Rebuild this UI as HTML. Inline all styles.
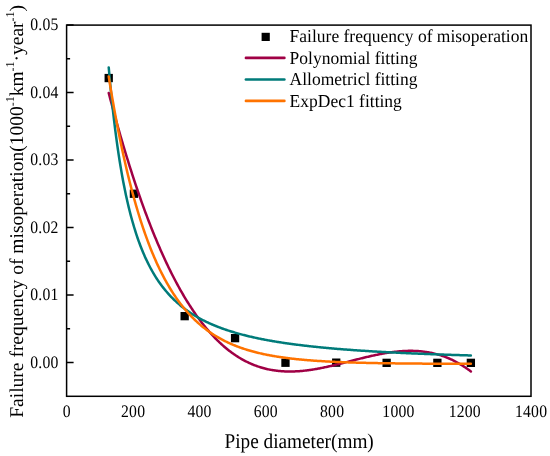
<!DOCTYPE html>
<html><head><meta charset="utf-8"><style>
html,body{margin:0;padding:0;background:#fff;}
svg{display:block;}
text{font-family:'Liberation Serif','Times New Roman',serif;fill:#000;text-rendering:geometricPrecision;}
</style></head><body>
<svg width="550" height="456" viewBox="0 0 550 456">
<rect width="550" height="456" fill="#fff"/>

<rect x="66.6" y="25.1" width="464.40" height="371.20" fill="none" stroke="#000" stroke-width="1.5"/>
<path d="M66.6,362.50h7 M66.6,328.75h3.5 M66.6,295.00h7 M66.6,261.25h3.5 M66.6,227.50h7 M66.6,193.75h3.5 M66.6,160.00h7 M66.6,126.25h3.5 M66.6,92.50h7 M66.6,58.75h3.5 M66.6,25.00h7" stroke="#000" stroke-width="1.5" fill="none"/>
<text transform="translate(58.5,367.90) scale(1,1.12)" font-size="15.7" text-anchor="end" letter-spacing="0.2">0.00</text>
<text transform="translate(58.5,300.40) scale(1,1.12)" font-size="15.7" text-anchor="end" letter-spacing="0.2">0.01</text>
<text transform="translate(58.5,232.90) scale(1,1.12)" font-size="15.7" text-anchor="end" letter-spacing="0.2">0.02</text>
<text transform="translate(58.5,165.40) scale(1,1.12)" font-size="15.7" text-anchor="end" letter-spacing="0.2">0.03</text>
<text transform="translate(58.5,97.90) scale(1,1.12)" font-size="15.7" text-anchor="end" letter-spacing="0.2">0.04</text>
<text transform="translate(58.5,30.40) scale(1,1.12)" font-size="15.7" text-anchor="end" letter-spacing="0.2">0.05</text>
<text transform="translate(66.80,416.9) scale(1,1.12)" font-size="15.7" text-anchor="middle" letter-spacing="0.2">0</text>
<text transform="translate(133.13,416.9) scale(1,1.12)" font-size="15.7" text-anchor="middle" letter-spacing="0.2">200</text>
<text transform="translate(199.46,416.9) scale(1,1.12)" font-size="15.7" text-anchor="middle" letter-spacing="0.2">400</text>
<text transform="translate(265.79,416.9) scale(1,1.12)" font-size="15.7" text-anchor="middle" letter-spacing="0.2">600</text>
<text transform="translate(332.11,416.9) scale(1,1.12)" font-size="15.7" text-anchor="middle" letter-spacing="0.2">800</text>
<text transform="translate(398.44,416.9) scale(1,1.12)" font-size="15.7" text-anchor="middle" letter-spacing="0.2">1000</text>
<text transform="translate(464.77,416.9) scale(1,1.12)" font-size="15.7" text-anchor="middle" letter-spacing="0.2">1200</text>
<text transform="translate(531.10,416.9) scale(1,1.12)" font-size="15.7" text-anchor="middle" letter-spacing="0.2">1400</text>
<rect x="104.57" y="73.90" width="8.3" height="8.3" fill="#000"/>
<rect x="129.77" y="189.60" width="8.3" height="8.3" fill="#000"/>
<rect x="180.51" y="312.00" width="8.3" height="8.3" fill="#000"/>
<rect x="230.92" y="334.00" width="8.3" height="8.3" fill="#000"/>
<rect x="281.33" y="358.60" width="8.3" height="8.3" fill="#000"/>
<rect x="332.08" y="358.50" width="8.3" height="8.3" fill="#000"/>
<rect x="382.49" y="358.70" width="8.3" height="8.3" fill="#000"/>
<rect x="433.23" y="358.70" width="8.3" height="8.3" fill="#000"/>
<rect x="466.72" y="358.70" width="8.3" height="8.3" fill="#000"/>
<path d="M108.72,92.93 L109.63,96.41 L110.53,99.86 L111.44,103.28 L112.35,106.68 L113.26,110.04 L114.16,113.38 L115.07,116.69 L115.98,119.98 L116.89,123.24 L117.80,126.47 L118.70,129.67 L119.61,132.84 L120.52,135.99 L121.43,139.12 L122.33,142.21 L123.24,145.28 L124.15,148.33 L125.06,151.34 L125.96,154.34 L126.87,157.30 L127.78,160.24 L128.69,163.15 L129.59,166.04 L130.50,168.90 L131.41,171.74 L132.32,174.55 L133.23,177.34 L134.13,180.10 L135.04,182.84 L135.95,185.55 L136.86,188.23 L137.76,190.89 L138.67,193.53 L139.58,196.14 L140.49,198.73 L141.39,201.29 L142.30,203.83 L143.21,206.35 L144.12,208.84 L145.02,211.31 L145.93,213.75 L146.84,216.17 L147.75,218.57 L148.66,220.94 L149.56,223.29 L150.47,225.62 L151.38,227.92 L152.29,230.20 L153.19,232.46 L154.10,234.69 L155.01,236.90 L155.92,239.09 L156.82,241.26 L157.73,243.40 L158.64,245.52 L159.55,247.62 L160.45,249.70 L161.36,251.75 L162.27,253.79 L163.18,255.80 L164.09,257.79 L164.99,259.76 L165.90,261.70 L166.81,263.63 L167.72,265.53 L168.62,267.42 L169.53,269.28 L170.44,271.12 L171.35,272.94 L172.25,274.74 L173.16,276.52 L174.07,278.28 L174.98,280.01 L175.89,281.73 L176.79,283.43 L177.70,285.11 L178.61,286.76 L179.52,288.40 L180.42,290.02 L181.33,291.61 L182.24,293.19 L183.15,294.75 L184.05,296.29 L184.96,297.81 L185.87,299.31 L186.78,300.79 L187.68,302.26 L188.59,303.70 L189.50,305.13 L190.41,306.53 L191.32,307.92 L192.22,309.29 L193.13,310.64 L194.04,311.98 L194.95,313.29 L195.85,314.59 L196.76,315.87 L197.67,317.13 L198.58,318.37 L199.48,319.60 L200.39,320.81 L201.30,322.00 L202.21,323.17 L203.11,324.33 L204.02,325.47 L204.93,326.59 L205.84,327.70 L206.75,328.79 L207.65,329.86 L208.56,330.92 L209.47,331.96 L210.38,332.98 L211.28,333.99 L212.19,334.98 L213.10,335.95 L214.01,336.91 L214.91,337.86 L215.82,338.78 L216.73,339.70 L217.64,340.59 L218.54,341.47 L219.45,342.34 L220.36,343.19 L221.27,344.03 L222.18,344.85 L223.08,345.65 L223.99,346.44 L224.90,347.22 L225.81,347.98 L226.71,348.73 L227.62,349.46 L228.53,350.18 L229.44,350.89 L230.34,351.58 L231.25,352.26 L232.16,352.92 L233.07,353.57 L233.97,354.21 L234.88,354.83 L235.79,355.44 L236.70,356.03 L237.61,356.62 L238.51,357.19 L239.42,357.74 L240.33,358.29 L241.24,358.82 L242.14,359.34 L243.05,359.84 L243.96,360.34 L244.87,360.82 L245.77,361.29 L246.68,361.75 L247.59,362.19 L248.50,362.62 L249.41,363.04 L250.31,363.45 L251.22,363.85 L252.13,364.24 L253.04,364.61 L253.94,364.98 L254.85,365.33 L255.76,365.67 L256.67,366.00 L257.57,366.32 L258.48,366.63 L259.39,366.93 L260.30,367.22 L261.20,367.50 L262.11,367.77 L263.02,368.02 L263.93,368.27 L264.84,368.51 L265.74,368.73 L266.65,368.95 L267.56,369.16 L268.47,369.36 L269.37,369.55 L270.28,369.72 L271.19,369.89 L272.10,370.06 L273.00,370.21 L273.91,370.35 L274.82,370.48 L275.73,370.61 L276.63,370.73 L277.54,370.83 L278.45,370.93 L279.36,371.03 L280.27,371.11 L281.17,371.18 L282.08,371.25 L282.99,371.31 L283.90,371.36 L284.80,371.40 L285.71,371.44 L286.62,371.47 L287.53,371.49 L288.43,371.50 L289.34,371.51 L290.25,371.51 L291.16,371.50 L292.06,371.49 L292.97,371.47 L293.88,371.44 L294.79,371.41 L295.70,371.37 L296.60,371.32 L297.51,371.27 L298.42,371.21 L299.33,371.14 L300.23,371.07 L301.14,371.00 L302.05,370.91 L302.96,370.83 L303.86,370.73 L304.77,370.63 L305.68,370.53 L306.59,370.42 L307.49,370.31 L308.40,370.19 L309.31,370.06 L310.22,369.93 L311.13,369.80 L312.03,369.66 L312.94,369.52 L313.85,369.37 L314.76,369.22 L315.66,369.07 L316.57,368.91 L317.48,368.75 L318.39,368.58 L319.29,368.41 L320.20,368.24 L321.11,368.06 L322.02,367.88 L322.93,367.69 L323.83,367.51 L324.74,367.32 L325.65,367.12 L326.56,366.93 L327.46,366.73 L328.37,366.53 L329.28,366.32 L330.19,366.12 L331.09,365.91 L332.00,365.70 L332.91,365.48 L333.82,365.27 L334.72,365.05 L335.63,364.83 L336.54,364.61 L337.45,364.39 L338.36,364.17 L339.26,363.94 L340.17,363.72 L341.08,363.49 L341.99,363.26 L342.89,363.03 L343.80,362.80 L344.71,362.57 L345.62,362.34 L346.52,362.11 L347.43,361.88 L348.34,361.64 L349.25,361.41 L350.15,361.18 L351.06,360.95 L351.97,360.71 L352.88,360.48 L353.79,360.25 L354.69,360.02 L355.60,359.78 L356.51,359.55 L357.42,359.32 L358.32,359.10 L359.23,358.87 L360.14,358.64 L361.05,358.41 L361.95,358.19 L362.86,357.97 L363.77,357.74 L364.68,357.52 L365.58,357.30 L366.49,357.09 L367.40,356.87 L368.31,356.66 L369.22,356.45 L370.12,356.24 L371.03,356.03 L371.94,355.83 L372.85,355.63 L373.75,355.43 L374.66,355.23 L375.57,355.04 L376.48,354.85 L377.38,354.66 L378.29,354.48 L379.20,354.30 L380.11,354.12 L381.01,353.95 L381.92,353.78 L382.83,353.61 L383.74,353.45 L384.65,353.29 L385.55,353.13 L386.46,352.98 L387.37,352.84 L388.28,352.70 L389.18,352.56 L390.09,352.42 L391.00,352.30 L391.91,352.17 L392.81,352.05 L393.72,351.94 L394.63,351.83 L395.54,351.73 L396.45,351.63 L397.35,351.53 L398.26,351.45 L399.17,351.36 L400.08,351.29 L400.98,351.22 L401.89,351.15 L402.80,351.09 L403.71,351.04 L404.61,350.99 L405.52,350.95 L406.43,350.92 L407.34,350.89 L408.24,350.87 L409.15,350.86 L410.06,350.85 L410.97,350.85 L411.88,350.86 L412.78,350.87 L413.69,350.89 L414.60,350.92 L415.51,350.96 L416.41,351.00 L417.32,351.05 L418.23,351.11 L419.14,351.18 L420.04,351.25 L420.95,351.34 L421.86,351.43 L422.77,351.53 L423.67,351.64 L424.58,351.75 L425.49,351.88 L426.40,352.01 L427.31,352.16 L428.21,352.31 L429.12,352.47 L430.03,352.64 L430.94,352.82 L431.84,353.01 L432.75,353.20 L433.66,353.41 L434.57,353.63 L435.47,353.86 L436.38,354.09 L437.29,354.34 L438.20,354.60 L439.10,354.87 L440.01,355.14 L440.92,355.43 L441.83,355.73 L442.74,356.04 L443.64,356.36 L444.55,356.69 L445.46,357.03 L446.37,357.39 L447.27,357.75 L448.18,358.13 L449.09,358.51 L450.00,358.91 L450.90,359.32 L451.81,359.74 L452.72,360.18 L453.63,360.62 L454.53,361.08 L455.44,361.55 L456.35,362.03 L457.26,362.52 L458.17,363.03 L459.07,363.55 L459.98,364.08 L460.89,364.62 L461.80,365.18 L462.70,365.75 L463.61,366.33 L464.52,366.93 L465.43,367.54 L466.33,368.16 L467.24,368.80 L468.15,369.45 L469.06,370.11 L469.96,370.79 L470.87,371.48" stroke="#A00045" stroke-width="2.5" fill="none" stroke-linejoin="round" stroke-linecap="round"/>
<path d="M108.72,67.45 L109.63,77.66 L110.53,87.32 L111.44,96.46 L112.35,105.13 L113.26,113.35 L114.16,121.16 L115.07,128.58 L115.98,135.64 L116.89,142.37 L117.80,148.78 L118.70,154.90 L119.61,160.74 L120.52,166.32 L121.43,171.66 L122.33,176.77 L123.24,181.66 L124.15,186.35 L125.06,190.85 L125.96,195.16 L126.87,199.31 L127.78,203.29 L128.69,207.12 L129.59,210.80 L130.50,214.34 L131.41,217.76 L132.32,221.04 L133.23,224.21 L134.13,227.27 L135.04,230.22 L135.95,233.07 L136.86,235.82 L137.76,238.48 L138.67,241.05 L139.58,243.54 L140.49,245.94 L141.39,248.27 L142.30,250.53 L143.21,252.71 L144.12,254.83 L145.02,256.88 L145.93,258.87 L146.84,260.80 L147.75,262.67 L148.66,264.49 L149.56,266.25 L150.47,267.97 L151.38,269.64 L152.29,271.26 L153.19,272.83 L154.10,274.36 L155.01,275.85 L155.92,277.30 L156.82,278.72 L157.73,280.09 L158.64,281.43 L159.55,282.73 L160.45,284.00 L161.36,285.24 L162.27,286.45 L163.18,287.63 L164.09,288.78 L164.99,289.90 L165.90,290.99 L166.81,292.06 L167.72,293.10 L168.62,294.12 L169.53,295.11 L170.44,296.08 L171.35,297.03 L172.25,297.96 L173.16,298.86 L174.07,299.75 L174.98,300.61 L175.89,301.46 L176.79,302.29 L177.70,303.10 L178.61,303.89 L179.52,304.67 L180.42,305.43 L181.33,306.17 L182.24,306.90 L183.15,307.62 L184.05,308.32 L184.96,309.00 L185.87,309.67 L186.78,310.33 L187.68,310.97 L188.59,311.61 L189.50,312.23 L190.41,312.83 L191.32,313.43 L192.22,314.01 L193.13,314.59 L194.04,315.15 L194.95,315.70 L195.85,316.24 L196.76,316.78 L197.67,317.30 L198.58,317.81 L199.48,318.31 L200.39,318.81 L201.30,319.29 L202.21,319.77 L203.11,320.24 L204.02,320.70 L204.93,321.15 L205.84,321.60 L206.75,322.03 L207.65,322.46 L208.56,322.88 L209.47,323.30 L210.38,323.71 L211.28,324.11 L212.19,324.50 L213.10,324.89 L214.01,325.27 L214.91,325.65 L215.82,326.02 L216.73,326.38 L217.64,326.74 L218.54,327.09 L219.45,327.44 L220.36,327.78 L221.27,328.12 L222.18,328.45 L223.08,328.77 L223.99,329.09 L224.90,329.41 L225.81,329.72 L226.71,330.03 L227.62,330.33 L228.53,330.63 L229.44,330.92 L230.34,331.21 L231.25,331.49 L232.16,331.77 L233.07,332.05 L233.97,332.32 L234.88,332.59 L235.79,332.86 L236.70,333.12 L237.61,333.37 L238.51,333.63 L239.42,333.88 L240.33,334.12 L241.24,334.37 L242.14,334.61 L243.05,334.84 L243.96,335.08 L244.87,335.31 L245.77,335.54 L246.68,335.76 L247.59,335.98 L248.50,336.20 L249.41,336.41 L250.31,336.63 L251.22,336.84 L252.13,337.04 L253.04,337.25 L253.94,337.45 L254.85,337.65 L255.76,337.85 L256.67,338.04 L257.57,338.23 L258.48,338.42 L259.39,338.61 L260.30,338.79 L261.20,338.98 L262.11,339.16 L263.02,339.33 L263.93,339.51 L264.84,339.68 L265.74,339.86 L266.65,340.03 L267.56,340.19 L268.47,340.36 L269.37,340.52 L270.28,340.68 L271.19,340.84 L272.10,341.00 L273.00,341.16 L273.91,341.31 L274.82,341.46 L275.73,341.61 L276.63,341.76 L277.54,341.91 L278.45,342.06 L279.36,342.20 L280.27,342.34 L281.17,342.48 L282.08,342.62 L282.99,342.76 L283.90,342.90 L284.80,343.03 L285.71,343.16 L286.62,343.30 L287.53,343.43 L288.43,343.55 L289.34,343.68 L290.25,343.81 L291.16,343.93 L292.06,344.06 L292.97,344.18 L293.88,344.30 L294.79,344.42 L295.70,344.54 L296.60,344.65 L297.51,344.77 L298.42,344.88 L299.33,345.00 L300.23,345.11 L301.14,345.22 L302.05,345.33 L302.96,345.44 L303.86,345.55 L304.77,345.65 L305.68,345.76 L306.59,345.86 L307.49,345.97 L308.40,346.07 L309.31,346.17 L310.22,346.27 L311.13,346.37 L312.03,346.47 L312.94,346.57 L313.85,346.66 L314.76,346.76 L315.66,346.85 L316.57,346.95 L317.48,347.04 L318.39,347.13 L319.29,347.22 L320.20,347.31 L321.11,347.40 L322.02,347.49 L322.93,347.58 L323.83,347.67 L324.74,347.75 L325.65,347.84 L326.56,347.92 L327.46,348.01 L328.37,348.09 L329.28,348.17 L330.19,348.25 L331.09,348.33 L332.00,348.41 L332.91,348.49 L333.82,348.57 L334.72,348.65 L335.63,348.73 L336.54,348.80 L337.45,348.88 L338.36,348.95 L339.26,349.03 L340.17,349.10 L341.08,349.17 L341.99,349.25 L342.89,349.32 L343.80,349.39 L344.71,349.46 L345.62,349.53 L346.52,349.60 L347.43,349.67 L348.34,349.74 L349.25,349.80 L350.15,349.87 L351.06,349.94 L351.97,350.00 L352.88,350.07 L353.79,350.13 L354.69,350.20 L355.60,350.26 L356.51,350.33 L357.42,350.39 L358.32,350.45 L359.23,350.51 L360.14,350.57 L361.05,350.63 L361.95,350.69 L362.86,350.75 L363.77,350.81 L364.68,350.87 L365.58,350.93 L366.49,350.99 L367.40,351.05 L368.31,351.10 L369.22,351.16 L370.12,351.22 L371.03,351.27 L371.94,351.33 L372.85,351.38 L373.75,351.43 L374.66,351.49 L375.57,351.54 L376.48,351.59 L377.38,351.65 L378.29,351.70 L379.20,351.75 L380.11,351.80 L381.01,351.85 L381.92,351.90 L382.83,351.95 L383.74,352.00 L384.65,352.05 L385.55,352.10 L386.46,352.15 L387.37,352.20 L388.28,352.25 L389.18,352.30 L390.09,352.34 L391.00,352.39 L391.91,352.44 L392.81,352.48 L393.72,352.53 L394.63,352.57 L395.54,352.62 L396.45,352.66 L397.35,352.71 L398.26,352.75 L399.17,352.80 L400.08,352.84 L400.98,352.88 L401.89,352.93 L402.80,352.97 L403.71,353.01 L404.61,353.05 L405.52,353.10 L406.43,353.14 L407.34,353.18 L408.24,353.22 L409.15,353.26 L410.06,353.30 L410.97,353.34 L411.88,353.38 L412.78,353.42 L413.69,353.46 L414.60,353.50 L415.51,353.54 L416.41,353.57 L417.32,353.61 L418.23,353.65 L419.14,353.69 L420.04,353.73 L420.95,353.76 L421.86,353.80 L422.77,353.84 L423.67,353.87 L424.58,353.91 L425.49,353.94 L426.40,353.98 L427.31,354.02 L428.21,354.05 L429.12,354.09 L430.03,354.12 L430.94,354.15 L431.84,354.19 L432.75,354.22 L433.66,354.26 L434.57,354.29 L435.47,354.32 L436.38,354.36 L437.29,354.39 L438.20,354.42 L439.10,354.46 L440.01,354.49 L440.92,354.52 L441.83,354.55 L442.74,354.58 L443.64,354.61 L444.55,354.65 L445.46,354.68 L446.37,354.71 L447.27,354.74 L448.18,354.77 L449.09,354.80 L450.00,354.83 L450.90,354.86 L451.81,354.89 L452.72,354.92 L453.63,354.95 L454.53,354.98 L455.44,355.01 L456.35,355.03 L457.26,355.06 L458.17,355.09 L459.07,355.12 L459.98,355.15 L460.89,355.18 L461.80,355.20 L462.70,355.23 L463.61,355.26 L464.52,355.29 L465.43,355.31 L466.33,355.34 L467.24,355.37 L468.15,355.39 L469.06,355.42 L469.96,355.45 L470.87,355.47" stroke="#007B7A" stroke-width="2.5" fill="none" stroke-linejoin="round" stroke-linecap="round"/>
<path d="M108.72,76.54 L109.63,82.16 L110.53,87.68 L111.44,93.09 L112.35,98.39 L113.26,103.59 L114.16,108.68 L115.07,113.68 L115.98,118.58 L116.89,123.38 L117.80,128.09 L118.70,132.71 L119.61,137.23 L120.52,141.67 L121.43,146.02 L122.33,150.29 L123.24,154.47 L124.15,158.57 L125.06,162.59 L125.96,166.53 L126.87,170.39 L127.78,174.18 L128.69,177.90 L129.59,181.54 L130.50,185.11 L131.41,188.61 L132.32,192.04 L133.23,195.41 L134.13,198.71 L135.04,201.94 L135.95,205.11 L136.86,208.22 L137.76,211.27 L138.67,214.26 L139.58,217.19 L140.49,220.06 L141.39,222.88 L142.30,225.64 L143.21,228.34 L144.12,231.00 L145.02,233.60 L145.93,236.15 L146.84,238.65 L147.75,241.11 L148.66,243.51 L149.56,245.87 L150.47,248.18 L151.38,250.44 L152.29,252.67 L153.19,254.84 L154.10,256.98 L155.01,259.07 L155.92,261.13 L156.82,263.14 L157.73,265.11 L158.64,267.05 L159.55,268.94 L160.45,270.80 L161.36,272.63 L162.27,274.41 L163.18,276.17 L164.09,277.88 L164.99,279.57 L165.90,281.22 L166.81,282.84 L167.72,284.43 L168.62,285.98 L169.53,287.51 L170.44,289.00 L171.35,290.47 L172.25,291.91 L173.16,293.32 L174.07,294.70 L174.98,296.06 L175.89,297.39 L176.79,298.69 L177.70,299.97 L178.61,301.22 L179.52,302.45 L180.42,303.65 L181.33,304.83 L182.24,305.99 L183.15,307.12 L184.05,308.23 L184.96,309.32 L185.87,310.39 L186.78,311.44 L187.68,312.47 L188.59,313.48 L189.50,314.46 L190.41,315.43 L191.32,316.38 L192.22,317.31 L193.13,318.23 L194.04,319.12 L194.95,320.00 L195.85,320.86 L196.76,321.70 L197.67,322.53 L198.58,323.34 L199.48,324.13 L200.39,324.91 L201.30,325.68 L202.21,326.42 L203.11,327.16 L204.02,327.88 L204.93,328.58 L205.84,329.28 L206.75,329.96 L207.65,330.62 L208.56,331.27 L209.47,331.91 L210.38,332.54 L211.28,333.15 L212.19,333.76 L213.10,334.35 L214.01,334.93 L214.91,335.49 L215.82,336.05 L216.73,336.60 L217.64,337.13 L218.54,337.66 L219.45,338.17 L220.36,338.68 L221.27,339.17 L222.18,339.65 L223.08,340.13 L223.99,340.60 L224.90,341.05 L225.81,341.50 L226.71,341.94 L227.62,342.37 L228.53,342.79 L229.44,343.21 L230.34,343.61 L231.25,344.01 L232.16,344.40 L233.07,344.78 L233.97,345.16 L234.88,345.53 L235.79,345.89 L236.70,346.24 L237.61,346.59 L238.51,346.93 L239.42,347.26 L240.33,347.59 L241.24,347.91 L242.14,348.22 L243.05,348.53 L243.96,348.83 L244.87,349.12 L245.77,349.41 L246.68,349.70 L247.59,349.98 L248.50,350.25 L249.41,350.52 L250.31,350.78 L251.22,351.04 L252.13,351.29 L253.04,351.54 L253.94,351.78 L254.85,352.02 L255.76,352.25 L256.67,352.48 L257.57,352.71 L258.48,352.93 L259.39,353.14 L260.30,353.35 L261.20,353.56 L262.11,353.76 L263.02,353.96 L263.93,354.16 L264.84,354.35 L265.74,354.54 L266.65,354.72 L267.56,354.90 L268.47,355.08 L269.37,355.25 L270.28,355.42 L271.19,355.59 L272.10,355.75 L273.00,355.91 L273.91,356.07 L274.82,356.22 L275.73,356.37 L276.63,356.52 L277.54,356.67 L278.45,356.81 L279.36,356.95 L280.27,357.09 L281.17,357.22 L282.08,357.35 L282.99,357.48 L283.90,357.61 L284.80,357.73 L285.71,357.85 L286.62,357.97 L287.53,358.09 L288.43,358.20 L289.34,358.31 L290.25,358.42 L291.16,358.53 L292.06,358.64 L292.97,358.74 L293.88,358.84 L294.79,358.94 L295.70,359.04 L296.60,359.14 L297.51,359.23 L298.42,359.32 L299.33,359.41 L300.23,359.50 L301.14,359.59 L302.05,359.67 L302.96,359.76 L303.86,359.84 L304.77,359.92 L305.68,360.00 L306.59,360.08 L307.49,360.15 L308.40,360.23 L309.31,360.30 L310.22,360.37 L311.13,360.44 L312.03,360.51 L312.94,360.57 L313.85,360.64 L314.76,360.71 L315.66,360.77 L316.57,360.83 L317.48,360.89 L318.39,360.95 L319.29,361.01 L320.20,361.07 L321.11,361.12 L322.02,361.18 L322.93,361.23 L323.83,361.28 L324.74,361.34 L325.65,361.39 L326.56,361.44 L327.46,361.49 L328.37,361.53 L329.28,361.58 L330.19,361.63 L331.09,361.67 L332.00,361.72 L332.91,361.76 L333.82,361.80 L334.72,361.85 L335.63,361.89 L336.54,361.93 L337.45,361.97 L338.36,362.00 L339.26,362.04 L340.17,362.08 L341.08,362.12 L341.99,362.15 L342.89,362.19 L343.80,362.22 L344.71,362.25 L345.62,362.29 L346.52,362.32 L347.43,362.35 L348.34,362.38 L349.25,362.41 L350.15,362.44 L351.06,362.47 L351.97,362.50 L352.88,362.53 L353.79,362.56 L354.69,362.58 L355.60,362.61 L356.51,362.64 L357.42,362.66 L358.32,362.69 L359.23,362.71 L360.14,362.73 L361.05,362.76 L361.95,362.78 L362.86,362.80 L363.77,362.83 L364.68,362.85 L365.58,362.87 L366.49,362.89 L367.40,362.91 L368.31,362.93 L369.22,362.95 L370.12,362.97 L371.03,362.99 L371.94,363.01 L372.85,363.03 L373.75,363.04 L374.66,363.06 L375.57,363.08 L376.48,363.09 L377.38,363.11 L378.29,363.13 L379.20,363.14 L380.11,363.16 L381.01,363.17 L381.92,363.19 L382.83,363.20 L383.74,363.22 L384.65,363.23 L385.55,363.25 L386.46,363.26 L387.37,363.27 L388.28,363.29 L389.18,363.30 L390.09,363.31 L391.00,363.32 L391.91,363.34 L392.81,363.35 L393.72,363.36 L394.63,363.37 L395.54,363.38 L396.45,363.39 L397.35,363.40 L398.26,363.41 L399.17,363.42 L400.08,363.43 L400.98,363.44 L401.89,363.45 L402.80,363.46 L403.71,363.47 L404.61,363.48 L405.52,363.49 L406.43,363.50 L407.34,363.51 L408.24,363.52 L409.15,363.52 L410.06,363.53 L410.97,363.54 L411.88,363.55 L412.78,363.56 L413.69,363.56 L414.60,363.57 L415.51,363.58 L416.41,363.58 L417.32,363.59 L418.23,363.60 L419.14,363.61 L420.04,363.61 L420.95,363.62 L421.86,363.62 L422.77,363.63 L423.67,363.64 L424.58,363.64 L425.49,363.65 L426.40,363.65 L427.31,363.66 L428.21,363.66 L429.12,363.67 L430.03,363.68 L430.94,363.68 L431.84,363.69 L432.75,363.69 L433.66,363.70 L434.57,363.70 L435.47,363.70 L436.38,363.71 L437.29,363.71 L438.20,363.72 L439.10,363.72 L440.01,363.73 L440.92,363.73 L441.83,363.73 L442.74,363.74 L443.64,363.74 L444.55,363.75 L445.46,363.75 L446.37,363.75 L447.27,363.76 L448.18,363.76 L449.09,363.76 L450.00,363.77 L450.90,363.77 L451.81,363.77 L452.72,363.78 L453.63,363.78 L454.53,363.78 L455.44,363.79 L456.35,363.79 L457.26,363.79 L458.17,363.80 L459.07,363.80 L459.98,363.80 L460.89,363.80 L461.80,363.81 L462.70,363.81 L463.61,363.81 L464.52,363.81 L465.43,363.82 L466.33,363.82 L467.24,363.82 L468.15,363.82 L469.06,363.83 L469.96,363.83 L470.87,363.83" stroke="#FF7300" stroke-width="2.5" fill="none" stroke-linejoin="round" stroke-linecap="round"/>
<rect x="261.6" y="32.8" width="8.2" height="8.2" fill="#000"/>
<path d="M245.9,57.9H284.4" stroke="#A00045" stroke-width="2.6" stroke-linecap="round"/>
<path d="M245.9,79.5H284.4" stroke="#007B7A" stroke-width="2.6" stroke-linecap="round"/>
<path d="M245.9,100.9H284.4" stroke="#FF7300" stroke-width="2.6" stroke-linecap="round"/>
<text transform="translate(289.6,42.1) scale(1,1.04)" font-size="17.5">Failure frequency of misoperation</text>
<text transform="translate(289.6,63.7) scale(1,1.04)" font-size="17.5">Polynomial fitting</text>
<text transform="translate(289.6,85.2) scale(1,1.04)" font-size="17.5">Allometricl fitting</text>
<text transform="translate(289.6,106.6) scale(1,1.04)" font-size="17.5">ExpDec1 fitting</text>
<text transform="translate(299.1,447.5) scale(1,1.09)" font-size="19.3" text-anchor="middle">Pipe diameter(mm)</text>
<text transform="translate(23,211.3) rotate(-90)" font-size="19.5" text-anchor="middle">Failure frequency of misoperation(1000<tspan font-size="12" dy="-7.2">-</tspan><tspan font-size="12" dy="-1.4">1</tspan><tspan dy="8.6">km</tspan><tspan font-size="12" dy="-7.2">-</tspan><tspan font-size="12" dy="-1.4">1</tspan><tspan dy="8.6">·year</tspan><tspan font-size="12" dy="-7.2">-</tspan><tspan font-size="12" dy="-1.4">1</tspan><tspan dy="8.6">)</tspan></text>
</svg></body></html>
